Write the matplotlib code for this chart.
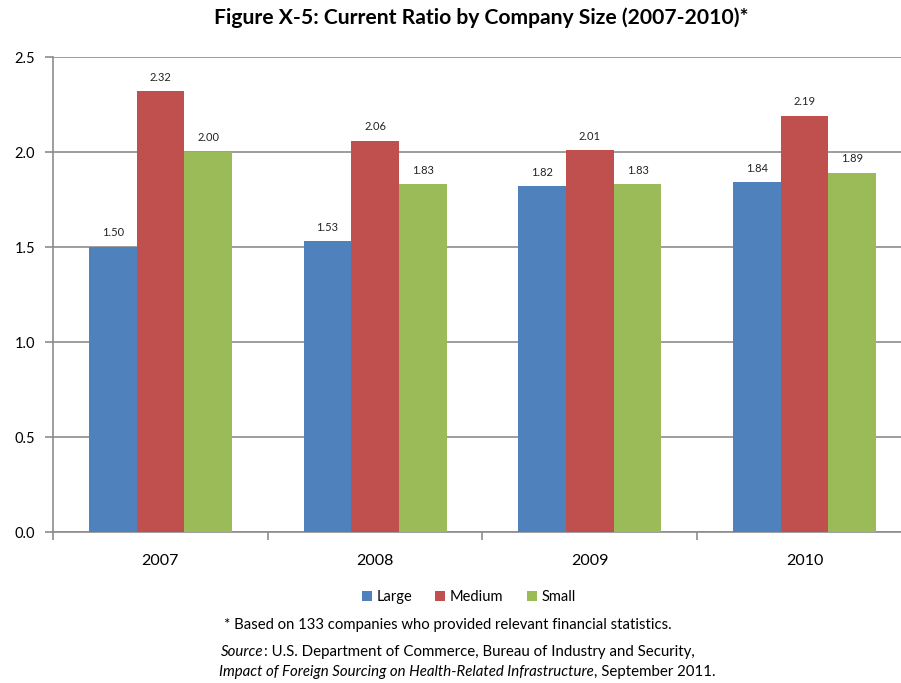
import matplotlib.pyplot as plt
import numpy as np

plt.rcParams['font.family'] = ['Lato', 'DejaVu Sans']

years = ["2007", "2008", "2009", "2010"]
sizes = ["Large", "Medium", "Small"]
large = [1.50, 1.53, 1.82, 1.84]
medium = [2.32, 2.06, 2.01, 2.19]
small = [2.00, 1.83, 1.83, 1.89]
colors = ["#4F81BD", "#C0504D", "#9BBB59"]
grey = "#8c8c8c"

fig = plt.figure(figsize=(9.01, 6.83), dpi=100)
# plot area runs a little past the right edge of the figure
ax = fig.add_axes([0.0588, 0.221, 0.9534, 0.6955])

x = np.arange(len(years))
width = 0.222
for i, (vals, name, c) in enumerate(zip([large, medium, small], sizes, colors)):
    bars = ax.bar(x + (i - 1) * width, vals, width, color=c, label=name, zorder=3)
    for b, v in zip(bars, vals):
        ax.text(b.get_x() + b.get_width() / 2, v + 0.045, f"{v:.2f}",
                ha="center", va="bottom", fontsize=8, color="#222222")

ax.set_xlim(-0.5, len(years) - 0.5)
ax.set_ylim(0, 2.5)
yt = np.arange(0, 2.51, 0.5)
ax.set_yticks(yt)
ax.set_yticklabels([f"{t:.1f}" for t in yt], fontsize=10.5)
ax.yaxis.grid(True, color=grey, linewidth=1.2, zorder=0)

# category labels centered, tick marks on the boundaries
ax.set_xticks(x)
ax.set_xticklabels(years, fontsize=11.5)
ax.tick_params(axis="x", length=0, pad=16)
ax.set_xticks(np.arange(-0.5, len(years)), minor=True)
ax.tick_params(axis="x", which="minor", length=6, color=grey, width=1.2)
ax.tick_params(axis="y", length=6, color=grey, width=1.2, pad=7)

for s in ["top", "right"]:
    ax.spines[s].set_visible(False)
for s in ["left", "bottom"]:
    ax.spines[s].set_color(grey)
    ax.spines[s].set_linewidth(1.2)

fig.text(0.534, 0.974, "Figure X-5: Current Ratio by Company Size (2007-2010)*",
         ha="center", va="center", fontsize=15.2, fontweight="bold")

fig.legend(loc="center", bbox_to_anchor=(0.52, 0.126), ncol=3, frameon=False,
           fontsize=10.5, handlelength=0.7, handleheight=0.7, handletextpad=0.3,
           columnspacing=1.6)

fig.text(0.497, 0.085, "* Based on 133 companies who provided relevant financial statistics.",
         ha="center", va="center", fontsize=10.7)


def mixed_line(parts, xc, y, size):
    """Draw (text, style) pieces side by side, centered on xc."""
    renderer = fig.canvas.get_renderer()
    items = [fig.text(0, y, t, ha="left", va="center", fontsize=size, style=st)
             for t, st in parts]
    widths = [it.get_window_extent(renderer).width / fig.bbox.width for it in items]
    x0 = xc - sum(widths) / 2
    for it, w in zip(items, widths):
        it.set_x(x0)
        x0 += w


mixed_line([("Source", "italic"),
            (": U.S. Department of Commerce, Bureau of Industry and Security,", "normal")],
           0.508, 0.046, 10.8)
mixed_line([("Impact of Foreign Sourcing on Health-Related Infrastructure", "italic"),
            (", September 2011.", "normal")],
           0.519, 0.016, 10.8)

fig.savefig("out.png", dpi=100)
